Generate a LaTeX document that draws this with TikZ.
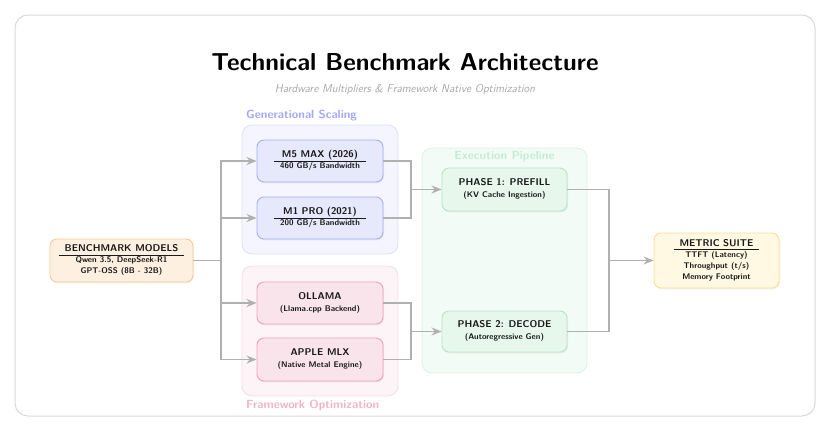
\documentclass[tikz,border=0pt]{standalone}
\usepackage{fontspec}
\usetikzlibrary{arrows.meta,shadows,positioning}
\definecolor{framec}{HTML}{D9D9D9}
\definecolor{conn}{HTML}{B0B0B0}
\definecolor{genfill}{HTML}{F4F5FF}
\definecolor{gendraw}{HTML}{DCDFFC}
\definecolor{genbox}{HTML}{E6E8FC}
\definecolor{genboxd}{HTML}{A9AEF2}
\definecolor{genlab}{HTML}{A3A8F5}
\definecolor{frfill}{HTML}{FDF4F7}
\definecolor{frdraw}{HTML}{F8DDE6}
\definecolor{frbox}{HTML}{FAE4EC}
\definecolor{frboxd}{HTML}{EDA2BC}
\definecolor{frlab}{HTML}{F2B3CA}
\definecolor{exfill}{HTML}{F3FBF6}
\definecolor{exdraw}{HTML}{DAF2E3}
\definecolor{exbox}{HTML}{E7F7EC}
\definecolor{exboxd}{HTML}{B5E5C5}
\definecolor{exlab}{HTML}{C3EDD3}
\definecolor{bmfill}{HTML}{FDF0E0}
\definecolor{bmdraw}{HTML}{F9CB95}
\definecolor{msfill}{HTML}{FFF8E2}
\definecolor{msdraw}{HTML}{F9E08F}
\definecolor{subc}{HTML}{A8A8A8}
\definecolor{txt}{HTML}{1A1A1A}
\tikzset{
  group/.style={draw, line width=0.8pt, rounded corners=10pt},
  box/.style={draw, line width=0.9pt, rounded corners=7pt, minimum width=126pt, minimum height=42pt,
    inner sep=1pt, align=center, text=txt, font=\sffamily\bfseries\fontsize{8.2}{11}\selectfont,
    drop shadow={opacity=0.12, shadow xshift=1pt, shadow yshift=-1.3pt}},
  grplabel/.style={font=\sffamily\bfseries\fontsize{11.8}{13}\selectfont},
  conn/.style={draw=conn, line width=1.5pt, -{Stealth[length=10pt,width=8pt]}},
  connl/.style={draw=conn, line width=1.5pt},
}
\newcommand{\bt}[1]{{\fontsize{9.8}{11}\selectfont #1}}
\begin{document}
\begin{tikzpicture}[x=1pt,y=-1pt]
\useasboundingbox (0,0) rectangle (830,432);
\draw[framec, line width=1pt, rounded corners=13pt] (15,15) rectangle (815,416);
\node[font=\sffamily\bfseries\fontsize{24.5}{28}\selectfont] (title) at (405,62) {Technical Benchmark Architecture};
\node[font=\sffamily\itshape\fontsize{11.4}{13}\selectfont, text=subc] (subtitle) at (405,90) {Hardware Multipliers \& Framework Native Optimization};
% groups
\draw[group, draw=gendraw, fill=genfill] (242,125) rectangle (398,254);
\draw[group, draw=frdraw, fill=frfill] (242,266) rectangle (398,396);
\draw[group, draw=exdraw, fill=exfill] (422,148) rectangle (587,373);
\node[grplabel, text=genlab, anchor=west, inner xsep=0pt] (glab) at (246,115) {Generational Scaling};
\node[grplabel, text=frlab, anchor=west, inner xsep=0pt] (flab) at (246,405) {Framework Optimization};
\node[grplabel, text=exlab] (elab) at (504.5,157) {Execution Pipeline};
% boxes
\node[box, fill=bmfill, draw=bmdraw, minimum width=143pt, minimum height=43pt] (bm) at (121.5,260.5)
  {\begin{tabular}{c}\bt{BENCHMARK MODELS}\\\hline Qwen 3.5, DeepSeek-R1\\GPT-OSS (8B - 32B)\end{tabular}};
\node[box, fill=genbox, draw=genboxd] (m5) at (320,161)
  {\begin{tabular}{c}\bt{M5 MAX (2026)}\\\hline 460 GB/s Bandwidth\end{tabular}};
\node[box, fill=genbox, draw=genboxd] (m1) at (320,218)
  {\begin{tabular}{c}\bt{M1 PRO (2021)}\\\hline 200 GB/s Bandwidth\end{tabular}};
\node[box, fill=frbox, draw=frboxd] (ol) at (320,303)
  {\bt{OLLAMA}\\[1pt](Llama.cpp Backend)};
\node[box, fill=frbox, draw=frboxd, minimum height=43pt] (mlx) at (320,359.5)
  {\bt{APPLE MLX}\\[1pt](Native Metal Engine)};
\node[box, fill=exbox, draw=exboxd, minimum width=125pt, minimum height=43pt] (p1) at (504.5,189.5)
  {\bt{PHASE 1: PREFILL}\\[1pt](KV Cache Ingestion)};
\node[box, fill=exbox, draw=exboxd, minimum width=125pt, minimum height=41pt] (p2) at (504.5,331.5)
  {\bt{PHASE 2: DECODE}\\[1pt](Autoregressive Gen)};
\node[box, fill=msfill, draw=msdraw, minimum width=125pt, minimum height=55pt] (ms) at (716.5,260.5)
  {\begin{tabular}{c}\bt{METRIC SUITE}\\\hline TTFT (Latency)\\Throughput (t/s)\\Memory Footprint\end{tabular}};
% junctions
\coordinate (jb) at (221,260.5);
\coordinate (j1) at (411,189.5);
\coordinate (j2) at (411,331.5);
\coordinate (j3) at (609,260.5);
% connectors
\draw[connl] (bm.east) -- (jb);
\draw[conn] (jb) |- (m5.west);
\draw[conn] (jb) |- (m1.west);
\draw[conn] (jb) |- (ol.west);
\draw[conn] (jb) |- (mlx.west);
\draw[connl] (m5.east) -| (j1);
\draw[connl] (m1.east) -| (j1);
\draw[conn] (j1) -- (p1.west);
\draw[connl] (ol.east) -| (j2);
\draw[connl] (mlx.east) -| (j2);
\draw[conn] (j2) -- (p2.west);
\draw[connl] (p1.east) -| (j3);
\draw[connl] (p2.east) -| (j3);
\draw[conn] (j3) -- (ms.west);
\end{tikzpicture}
\end{document}
